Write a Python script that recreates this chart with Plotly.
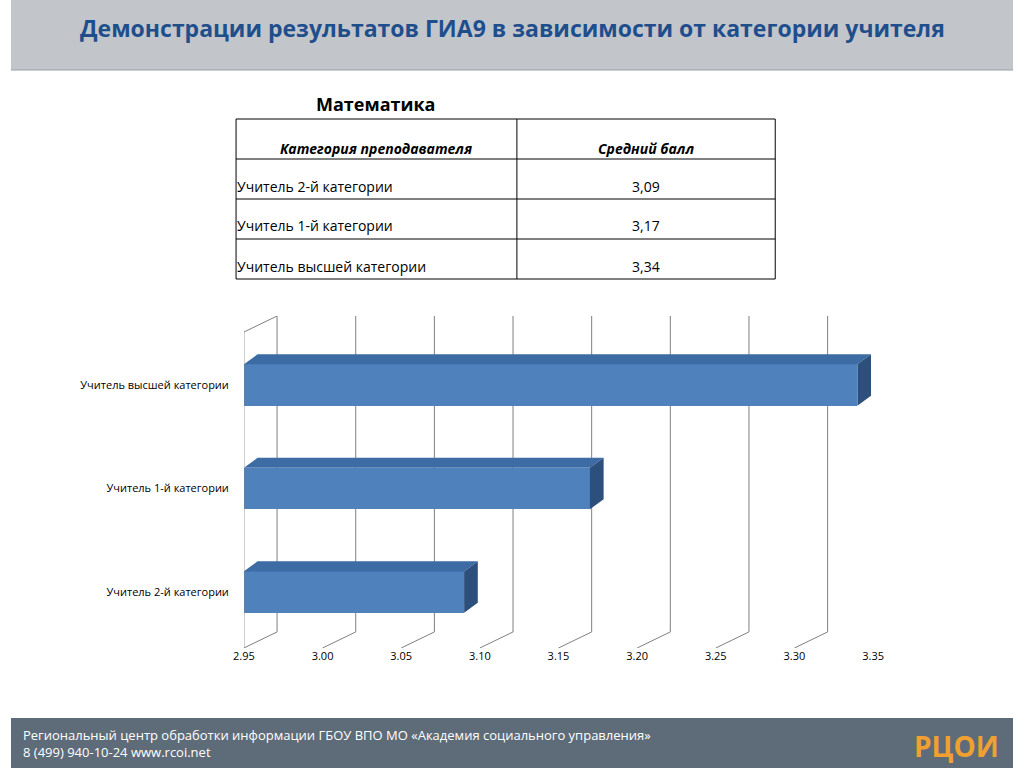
import plotly.graph_objects as go

categories = ["Учитель 2-й категории", "Учитель 1-й категории", "Учитель высшей категории"]
values = [3.09, 3.17, 3.34]
table_values = ["3,09", "3,17", "3,34"]
x_ticks = [2.95, 3.00, 3.05, 3.10, 3.15, 3.20, 3.25, 3.30, 3.35]

W, H = 1024, 768
BASE = 2.95
DX_GRID = 0.0211
DY_GRID = 0.155
DX_BAR = 0.0087
DY_BAR = 0.097
BH = 0.4
YMIN, YMAX = -0.54, 2.667

fig = go.Figure()
fig.add_trace(go.Bar(y=list(range(len(values))), x=[v - BASE for v in values], base=BASE,
                     orientation="h", width=BH, marker=dict(color="#4F81BD", line=dict(width=0)),
                     hoverinfo="skip"))

shapes = []
shapes.append(dict(type="rect", xref="paper", yref="paper", x0=0, x1=1, y0=1-70/H, y1=1,
                   fillcolor="#C2C6CB", line=dict(width=0), layer="below"))
shapes.append(dict(type="line", xref="paper", yref="paper", x0=0, x1=1, y0=1-70/H, y1=1-70/H,
                   line=dict(color="#9AA0A6", width=1)))
shapes.append(dict(type="rect", xref="paper", yref="paper", x0=0, x1=1, y0=0, y1=1-718/H,
                   fillcolor="#5E6B78", line=dict(width=0), layer="below"))

ytop = YMAX
yfloor_back = YMIN + DY_GRID
for t in x_ticks:
    shapes.append(dict(type="line", xref="x", yref="y", x0=t + DX_GRID, x1=t + DX_GRID,
                       y0=yfloor_back, y1=ytop, line=dict(color="#7F7F7F", width=1), layer="below"))
    shapes.append(dict(type="line", xref="x", yref="y", x0=t, x1=t + DX_GRID,
                       y0=YMIN, y1=yfloor_back, line=dict(color="#7F7F7F", width=1), layer="below"))
shapes.append(dict(type="line", xref="x", yref="y", x0=BASE, x1=BASE, y0=YMIN, y1=ytop - DY_GRID,
                   line=dict(color="#7F7F7F", width=1)))
shapes.append(dict(type="line", xref="x", yref="y", x0=BASE, x1=BASE + DX_GRID, y0=ytop - DY_GRID, y1=ytop,
                   line=dict(color="#7F7F7F", width=1)))
for i in range(len(values) + 1):
    yb = i - 0.5
    shapes.append(dict(type="line", xref="x", yref="y", x0=BASE - 0.003, x1=BASE, y0=yb, y1=yb,
                       line=dict(color="#7F7F7F", width=1)))

for i, v in enumerate(values):
    y0, y1 = i - BH/2, i + BH/2
    top = f"M {BASE},{y1} L {BASE+DX_BAR},{y1+DY_BAR} L {v+DX_BAR},{y1+DY_BAR} L {v},{y1} Z"
    side = f"M {v},{y0} L {v},{y1} L {v+DX_BAR},{y1+DY_BAR} L {v+DX_BAR},{y0+DY_BAR} Z"
    shapes.append(dict(type="path", xref="x", yref="y", path=top, fillcolor="#3D6BA3",
                       line=dict(width=0)))
    shapes.append(dict(type="path", xref="x", yref="y", path=side, fillcolor="#2C4F7C",
                       line=dict(width=0)))

tx0, tx1, tmid = 230/W, 781/W, 517/W
rows = [119, 159, 199, 239, 279]
for r in rows:
    shapes.append(dict(type="line", xref="paper", yref="paper", x0=tx0, x1=tx1, y0=1-r/H, y1=1-r/H,
                       line=dict(color="#000000", width=1)))
for xv in (tx0, tmid, tx1):
    shapes.append(dict(type="line", xref="paper", yref="paper", x0=xv, x1=xv, y0=1-rows[0]/H, y1=1-rows[-1]/H,
                       line=dict(color="#000000", width=1)))

def A(text, x, y, size, color="#000", xanchor="center", align="center"):
    return dict(text=text, x=x/W, y=1-y/H, xref="paper", yref="paper", showarrow=False,
                xanchor=xanchor, yanchor="middle", align=align,
                font=dict(size=size, color=color, family="Open Sans"))

ann = []
ann.append(A("<b>Демонстрации результатов ГИА9 в зависимости от категории учителя</b>", 512, 28, 23, "#1F4E8C"))
ann.append(A("<b>Математика</b>", 372, 104, 18))
ann.append(A("<b><i>Категория преподавателя</i></b>", 373, 148, 14))
ann.append(A("<b><i>Средний балл</i></b>", 649, 148, 14))
for k, (c, tv) in enumerate(zip(categories, table_values)):
    yy = 186 + 40*k
    ann.append(A(c, 229, yy, 14, xanchor="left"))
    ann.append(A(tv, 649, yy, 14))
ann.append(A("Региональный центр обработки информации ГБОУ ВПО МО «Академия социального управления»<br>8 (499) 940-10-24 www.rcoi.net",
             10, 743, 13, "#FFFFFF", xanchor="left", align="left"))
ann.append(A("<b>РЦОИ</b>", 1012, 746, 28, "#F0A030", xanchor="right"))

fig.update_layout(
    autosize=True, margin=dict(l=0, r=0, t=0, b=0), showlegend=False,
    paper_bgcolor="white", plot_bgcolor="rgba(0,0,0,0)",
    shapes=shapes, annotations=ann, bargap=0,
    xaxis=dict(domain=[238/W, 881/W], range=[BASE, 3.35], tickvals=x_ticks,
               ticktext=[f"{t:.2f}" for t in x_ticks], showgrid=False, zeroline=False, showline=False,
               tickfont=dict(size=11, color="#000", family="Open Sans"), ticks=""),
    yaxis=dict(domain=[1-648/H, 1-316/H], range=[YMIN, YMAX], tickvals=list(range(len(categories))),
               ticktext=categories, showgrid=False, zeroline=False, showline=False, ticks="",
               ticklabelstandoff=14, tickfont=dict(size=11, color="#000", family="Open Sans")),
)
fig.write_html("out.html", config={"displayModeBar": False, "responsive": True},
               default_width="100vw", default_height="100vh",
               post_script="document.body.style.margin='0';document.body.style.overflow='hidden';")
